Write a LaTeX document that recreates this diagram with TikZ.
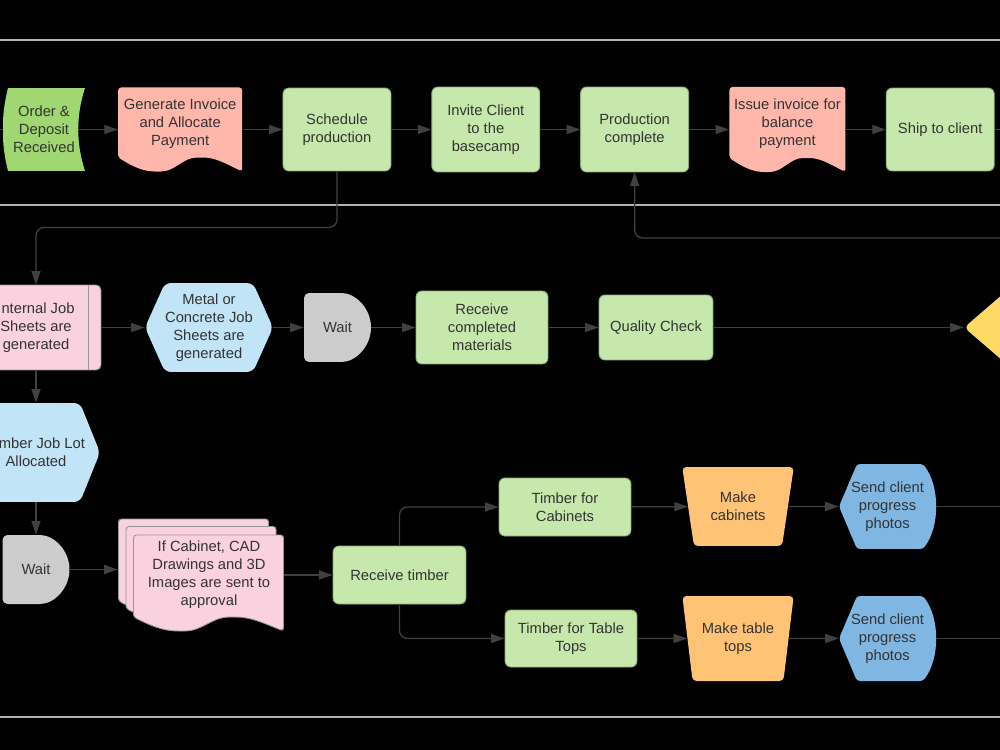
\documentclass[tikz,border=0pt]{standalone}
\usepackage{fontspec}
\setmainfont{Liberation Sans}
\usepackage{tikz}
\usetikzlibrary{arrows.meta, positioning, shapes.geometric}
\definecolor{lanecolor}{RGB}{178,178,178}
\definecolor{flowcolor}{RGB}{64,64,64}
\definecolor{textcolor}{RGB}{51,51,51}
\definecolor{taskcolor}{RGB}{199,232,172}
\definecolor{taskline}{RGB}{140,170,120}
\definecolor{ordercolor}{RGB}{160,215,115}
\definecolor{invoicecolor}{RGB}{255,183,172}
\definecolor{sheetcolor}{RGB}{250,209,222}
\definecolor{sheetline}{RGB}{150,150,150}
\definecolor{lotcolor}{RGB}{194,228,247}
\definecolor{waitcolor}{RGB}{204,204,204}
\definecolor{makecolor}{RGB}{255,195,118}
\definecolor{photocolor}{RGB}{128,182,226}
\definecolor{checkcolor}{RGB}{255,217,102}

\newcommand{\ppbb}{path picture bounding box}
% sheet with a wavy lower edge: options, left, top, width, height (px from the box corner)
\newcommand{\wavesheet}[5]{%
  \path[#1]
       ([xshift=#2*0.02cm, yshift=-(#3+#5-14)*0.02cm]\ppbb.north west)
    -- ([xshift=#2*0.02cm, yshift=-#3*0.02cm]\ppbb.north west)
    -- ([xshift=(#2+#4)*0.02cm, yshift=-#3*0.02cm]\ppbb.north west)
    -- ([xshift=(#2+#4)*0.02cm, yshift=-(#3+#5)*0.02cm]\ppbb.north west)
    .. controls ([xshift=(#2+0.85*#4)*0.02cm, yshift=-(#3+#5-9)*0.02cm]\ppbb.north west)
            and ([xshift=(#2+0.78*#4)*0.02cm, yshift=-(#3+#5-14)*0.02cm]\ppbb.north west)
    .. ([xshift=(#2+0.66*#4)*0.02cm, yshift=-(#3+#5-14)*0.02cm]\ppbb.north west)
    .. controls ([xshift=(#2+0.52*#4)*0.02cm, yshift=-(#3+#5-14)*0.02cm]\ppbb.north west)
            and ([xshift=(#2+0.46*#4)*0.02cm, yshift=-(#3+#5)*0.02cm]\ppbb.north west)
    .. ([xshift=(#2+0.32*#4)*0.02cm, yshift=-(#3+#5)*0.02cm]\ppbb.north west)
    .. controls ([xshift=(#2+0.18*#4)*0.02cm, yshift=-(#3+#5)*0.02cm]\ppbb.north west)
            and ([xshift=(#2+0.08*#4)*0.02cm, yshift=-(#3+#5-8)*0.02cm]\ppbb.north west)
    .. cycle;}

\begin{document}
\begin{tikzpicture}[x=0.02cm, y=-0.02cm,
    base/.style={align=center, text=textcolor, font=\fontsize{8.4}{10.2}\selectfont, inner sep=2pt},
    task/.style={base, rounded corners=0.12cm, fill=taskcolor, draw=taskline, line width=0.5pt},
    storedbox/.style={base, path picture={\fill[ordercolor]
        ([xshift=0.1cm]\ppbb.north west) -- (\ppbb.north east)
        .. controls ([xshift=-0.18cm, yshift=-0.55cm]\ppbb.north east) and ([xshift=-0.18cm, yshift=0.55cm]\ppbb.south east) .. (\ppbb.south east)
        -- ([xshift=0.1cm]\ppbb.south west)
        .. controls ([xshift=-0.04cm, yshift=0.55cm]\ppbb.south west) and ([xshift=-0.04cm, yshift=-0.55cm]\ppbb.north west) .. cycle;}},
    docbox/.style n args={3}{base, minimum width=#2*0.02cm, minimum height=#3*0.02cm,
      path picture={\wavesheet{fill=#1, rounded corners=0.06cm}{0}{0}{#2}{#3}}},
    multidocbox/.style={base, minimum width=3.32cm, minimum height=2.26cm, path picture={
        \wavesheet{fill=sheetcolor, draw=sheetline, line width=0.5pt, rounded corners=0.06cm}{0.5}{0.5}{150}{96}
        \wavesheet{fill=sheetcolor, draw=sheetline, line width=0.5pt, rounded corners=0.06cm}{8}{8}{150}{96}
        \wavesheet{fill=sheetcolor, draw=sheetline, line width=0.5pt, rounded corners=0.06cm}{15.5}{16.5}{150}{96}}},
    sheetbox/.style={base, rounded corners=0.1cm, fill=sheetcolor, draw=sheetline, line width=0.5pt,
      path picture={\draw[sheetline, line width=0.5pt]
        ([xshift=0.26cm]\ppbb.north west) -- ([xshift=0.26cm]\ppbb.south west)
        ([xshift=-0.26cm]\ppbb.north east) -- ([xshift=-0.26cm]\ppbb.south east);}},
    hexbox/.style={base, path picture={\fill[lotcolor, rounded corners=0.12cm]
        (\ppbb.west) -- ([xshift=0.4cm]\ppbb.north west) -- ([xshift=-0.4cm]\ppbb.north east) -- (\ppbb.east)
        -- ([xshift=-0.4cm]\ppbb.south east) -- ([xshift=0.4cm]\ppbb.south west) -- cycle;}},
    delaybox/.style={base, minimum width=1.34cm, minimum height=1.38cm, path picture={\fill[waitcolor, rounded corners=0.1cm]
        (\ppbb.south west) -- (\ppbb.north west) -- ([xshift=-0.69cm]\ppbb.north east)
        arc[start angle=90, end angle=-90, radius=0.69cm] -- cycle;}},
    displaybox/.style={base, minimum width=1.94cm, minimum height=1.7cm, path picture={\fill[photocolor, rounded corners=0.06cm]
        (\ppbb.west) -- ([xshift=0.36cm]\ppbb.north west) -- ([xshift=-0.26cm]\ppbb.north east)
        .. controls ([xshift=0.08cm, yshift=-0.45cm]\ppbb.north east) and ([xshift=0.08cm, yshift=0.45cm]\ppbb.south east) .. ([xshift=-0.26cm]\ppbb.south east)
        -- ([xshift=0.36cm]\ppbb.south west) -- cycle;}},
    manualbox/.style={base, trapezium, trapezium angle=77, shape border rotate=180, trapezium stretches=true,
      fill=makecolor, rounded corners=0.08cm, minimum width=2.24cm},
    decisionbox/.style={diamond, fill=checkcolor, rounded corners=0.1cm, minimum width=3.2cm, minimum height=2.76cm, inner sep=0pt},
    flow/.style={draw=flowcolor, line width=0.75pt},
    lane/.style={draw=lanecolor, line width=1.1pt},
    >={Triangle[length=2.7mm, width=1.8mm]}
  ]
  \useasboundingbox (0,0) rectangle (1000,750);
  \clip (0,0) rectangle (1000,750);
  \fill[black] (0,0) rectangle (1000,750);

  % lanes
  \draw[lane] (0,40) -- (1000,40);
  \draw[lane] (0,205) -- (1000,205);
  \draw[lane] (0,717) -- (1000,717);

  % top lane
  \node[storedbox, minimum width=1.64cm, minimum height=1.66cm] (order) at (44,129.5) {Order \&\\Deposit\\Received};
  \node[docbox={invoicecolor}{124}{84}, right=0.65cm of order] (invoice) {Generate Invoice\\and Allocate\\Payment\\[-2pt]\mbox{}};
  \node[task, minimum width=2.16cm, minimum height=1.66cm, right=0.8cm of invoice] (schedule) {Schedule\\production};
  \node[task, minimum width=2.16cm, minimum height=1.7cm, right=0.8cm of schedule] (invite) {Invite Client\\to the\\basecamp};
  \node[task, minimum width=2.16cm, minimum height=1.7cm, right=0.8cm of invite] (production) {Production\\complete};
  \node[docbox={invoicecolor}{116}{85}, right=0.8cm of production] (issue) {Issue invoice for\\balance\\payment\\[-2pt]\mbox{}};
  \node[task, minimum width=2.16cm, minimum height=1.66cm, right=0.8cm of issue] (ship) {Ship to client};

  \coordinate (orderin) at (0,129.5);
  \coordinate (shipout) at (1000,129.5);
  \coordinate (qcback) at (1000,238);

  \draw[flow] (orderin) -- (order);
  \draw[flow, ->] ([xshift=-0.14cm]order.east) -- (invoice);
  \draw[flow, ->] (invoice) -- (schedule);
  \draw[flow, ->] (schedule) -- (invite);
  \draw[flow, ->] (invite) -- (production);
  \draw[flow, ->] (production) -- (issue);
  \draw[flow, ->] (issue) -- (ship);
  \draw[flow] (ship) -- (shipout);

  % job sheets
  \node[sheetbox, minimum width=2.6cm, minimum height=1.7cm] (internal) at (36,327.5) {Internal Job\\Sheets are\\generated};
  \node[hexbox, minimum width=2.56cm, minimum height=1.78cm] (metal) at (209,327.5) {Metal or\\Concrete Job\\Sheets are\\generated};
  \node[delaybox] (waitmetal) at (337.5,327.5) {Wait};
  \node[task, minimum width=2.64cm, minimum height=1.46cm] (received) at (482,327.5) {Receive\\completed\\materials};
  \node[task, minimum width=2.28cm, minimum height=1.3cm] (quality) at (656,327.5) {Quality Check};
  \node[decisionbox] (decision) at (1044,327.5) {};

  \draw[flow, ->, rounded corners=0.16cm] (schedule.south) -- ++(0,56) -| (internal.north);
  \draw[flow, ->, rounded corners=0.16cm] (qcback) -| (production.south);
  \draw[flow, ->] (internal) -- (metal);
  \draw[flow, ->] (metal) -- (waitmetal);
  \draw[flow, ->] (waitmetal) -- (received);
  \draw[flow, ->] (received) -- (quality);
  \draw[flow, ->] (quality) -- (decision);

  % timber
  \node[hexbox, minimum width=2.56cm, minimum height=1.98cm] (timberlot) at (36,452.5) {Timber Job Lot\\Allocated};
  \node[delaybox] (waittimber) at (36,569.5) {Wait};
  \node[multidocbox] (approval) at (201,575) {\hspace*{0.32cm}\begin{tabular}{@{}c@{}}If Cabinet, CAD\\Drawings and 3D\\Images are sent to\\approval\end{tabular}};
  \node[task, minimum width=2.66cm, minimum height=1.16cm] (timber) at (399.5,575) {Receive timber};
  \node[task, minimum width=2.64cm, minimum height=1.16cm] (cabinets) at (565,507) {Timber for\\Cabinets};
  \node[manualbox, minimum height=1.58cm] (makecab) at (738,506.5) {Make\\cabinets};
  \node[displaybox] (photoscab) at (887.5,506.5) {Send client\\progress\\photos};
  \node[task, minimum width=2.64cm, minimum height=1.14cm] (tops) at (571,638.5) {Timber for Table\\Tops};
  \node[manualbox, minimum height=1.7cm] (maketops) at (738,638.5) {Make table\\tops};
  \node[displaybox] (photostops) at (887.5,638.5) {Send client\\progress\\photos};

  \coordinate (cabout) at (1000,506.5);
  \coordinate (topsout) at (1000,638.5);

  \draw[flow, ->] (internal) -- (timberlot);
  \draw[flow, ->] (timberlot) -- (waittimber);
  \draw[flow, ->] (waittimber) -- (waittimber -| approval.west);
  \draw[flow, ->] (approval) -- (timber);
  \draw[flow, ->, rounded corners=0.16cm] (timber.north) |- (cabinets.west);
  \draw[flow, ->, rounded corners=0.16cm] (timber.south) |- (tops.west);
  \draw[flow, ->] (cabinets) -- (makecab);
  \draw[flow, ->] (makecab) -- (photoscab);
  \draw[flow] (photoscab) -- (cabout);
  \draw[flow, ->] (tops) -- (maketops);
  \draw[flow, ->] (maketops) -- (photostops);
  \draw[flow] (photostops) -- (topsout);
\end{tikzpicture}
\end{document}
